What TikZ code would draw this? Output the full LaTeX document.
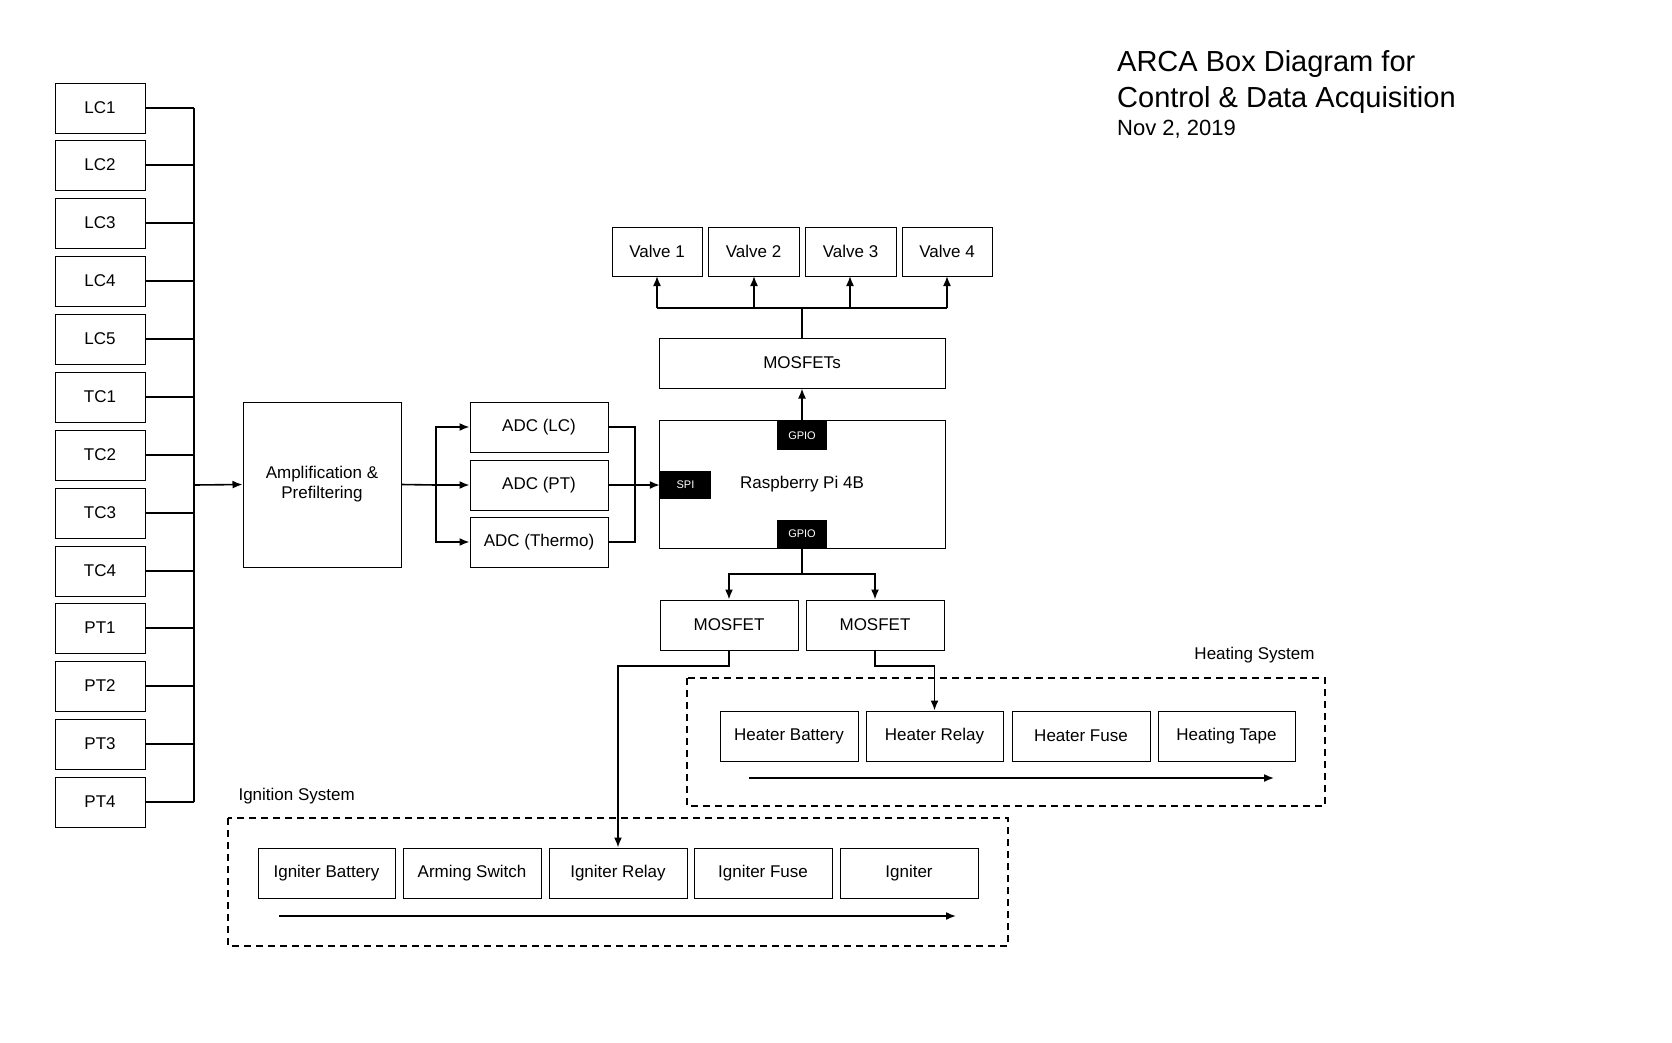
\documentclass[tikz,border=0pt]{standalone}
\usepackage{fontspec}
\setmainfont{Liberation Sans}
\usetikzlibrary{arrows.meta}
\begin{document}
\begin{tikzpicture}[x=1pt,y=-1pt,
  bx/.style={draw,line width=1pt,font=\fontsize{17}{20}\selectfont,align=center,inner sep=0pt},
  blk/.style={fill=black,text=white,font=\fontsize{11}{13}\selectfont,inner sep=0pt},
  ln/.style={line width=1.6pt},
  ar/.style={line width=1.6pt,-{Latex[length=10pt,width=8pt]}},
  dsh/.style={draw,line width=1.6pt,dash pattern=on 7pt off 5pt}]
\useasboundingbox (0,0) rectangle (1672,1042);
\newcommand{\bxat}[6]{\node[bx,minimum width=#4-#3,minimum height=#6-#5] (#1) at ({(#3+#4)/2},{(#5+#6)/2}) {#2};}
% sensors
\foreach \n/\y in {LC1/108,LC2/165,LC3/223,LC4/281,LC5/339,TC1/397,TC2/455,TC3/513,TC4/571,PT1/628,PT2/686,PT3/744,PT4/802}{
  \node[bx,minimum width=90,minimum height=50] (\n) at (100,\y) {\n};
  \draw[ln] (\n.east) -- (194,\y);
}
\coordinate (bt) at (194,108); \coordinate (bb) at (194,802); \coordinate (bm) at (194,485);
\draw[ln] (bt) -- (bb);
\bxat{amp}{Amplification \&\\Prefiltering}{243}{401}{402}{567}
\draw[ar] (bm) -- (amp.west);
\bxat{adcl}{ADC (LC)}{470}{608}{402}{452}
\bxat{adcp}{ADC (PT)}{470}{608}{460}{510}
\bxat{adct}{ADC (Thermo)}{470}{608}{517}{567}
\coordinate (sp) at (436,485); \coordinate (jn) at (635,485);
\draw[ln] (amp.east) -- (sp);
\draw[ar] (sp) |- (adcl.west);
\draw[ar] (sp) -- (adcp.west);
\draw[ar] (sp) |- (adct.west);
\draw[ln] (adcl.east) -| (jn) |- (adct.east);
\draw[ln] (adcp.east) -- (jn);
\bxat{rpi}{Raspberry Pi 4B}{659}{945}{420}{548}
\node[blk,minimum width=51,minimum height=28] (spi) at (685.5,485) {SPI};
\node[blk,minimum width=50,minimum height=29] (gt) at (802,435.5) {GPIO};
\node[blk,minimum width=50,minimum height=28] (gb) at (802,534) {GPIO};
\draw[ar] (jn) -- (spi.west);
\bxat{mos}{MOSFETs}{659}{945}{338}{388}
\draw[ar] (gt.north) -- (mos.south);
\bxat{v1}{Valve 1}{612}{702}{227}{276}
\bxat{v2}{Valve 2}{708}{799}{227}{276}
\bxat{v3}{Valve 3}{805}{896}{227}{276}
\bxat{v4}{Valve 4}{902}{992}{227}{276}
\coordinate (vj) at (802,308);
\draw[ln] (mos.north) -- (vj);
\draw[ln] (657,308) -- (947,308);
\foreach \v/\x in {v1/657,v2/754,v3/850,v4/947}{\draw[ar] (\x,308) -- (\x,276);}
\bxat{m1}{MOSFET}{660}{798}{600}{650}
\bxat{m2}{MOSFET}{806}{944}{600}{650}
\coordinate (gj) at (802,574);
\draw[ln] (gb.south) -- (gj);
\draw[ar] (gj) -| (m1.north);
\draw[ar] (gj) -| (m2.north);
% heating
\draw[dsh] (687,678) rectangle (1325,806);
\node[font=\fontsize{17}{20}\selectfont,anchor=east] at (1318,655) {Heating System};
\bxat{hb}{Heater Battery}{720}{858}{711}{761}
\bxat{hr}{Heater Relay}{866}{1003}{711}{761}
\bxat{hf}{Heater Fuse}{1012}{1150}{711}{761}
\bxat{ht}{Heating Tape}{1158}{1295}{711}{761}
\coordinate (ha) at (749,778); \coordinate (hz) at (1274,778);
\draw[ar] (ha) -- (hz);
% ignition
\draw[dsh] (228,818) rectangle (1008,946);
\node[font=\fontsize{17}{20}\selectfont,anchor=west] at (235,796) {Ignition System};
\bxat{ib}{Igniter Battery}{258}{395}{848}{898}
\bxat{as}{Arming Switch}{403}{541}{848}{898}
\bxat{ir}{Igniter Relay}{549}{687}{848}{898}
\bxat{ifu}{Igniter Fuse}{694}{832}{848}{898}
\bxat{ig}{Igniter}{840}{978}{848}{898}
\coordinate (ia) at (279,916); \coordinate (iz) at (956,916);
\draw[ar] (ia) -- (iz);
\draw[ar] (m1.south) -- (729,666) -| (ir.north);
\draw[ar] (m2.south) -- (875,666) -| (hr.north);
% title
\node[anchor=north west,align=left,inner sep=0pt,font=\fontsize{29}{36}\selectfont] (t) at (1117,50) {ARCA Box Diagram for\\Control \& Data Acquisition};
\node[anchor=north west,inner sep=0pt,font=\fontsize{22}{26}\selectfont] (d) at (1117,120) {Nov 2, 2019};
\end{tikzpicture}
\end{document}
